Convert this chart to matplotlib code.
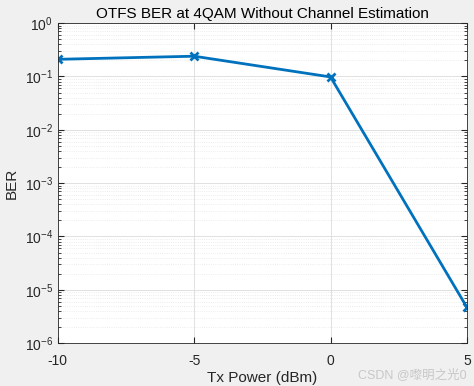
import matplotlib
matplotlib.use("Agg")
import matplotlib.pyplot as plt
from matplotlib.ticker import LogLocator, NullFormatter

# data
tx_power = [-10, -5, 0, 5]
ber = [0.21, 0.24, 0.098, 4.7e-6]
x_ticks = [-10, -5, 0, 5]

plt.rcParams['font.family'] = ['Liberation Sans', 'Noto Sans CJK SC', 'DejaVu Sans']

fig = plt.figure(figsize=(4.74, 3.86), dpi=100, facecolor='#f0f0f0')
ax = fig.add_axes([0.122, 0.111, 0.863, 0.829])
ax.set_facecolor('white')

ax.semilogy(tx_power, ber, '-x', color='#0072BD', linewidth=2,
            markersize=6, markeredgewidth=2)

ax.set_xlim(-10, 5)
ax.set_ylim(1e-6, 1)
ax.set_xticks(x_ticks)
ax.set_xticklabels([str(t) for t in x_ticks])
ax.yaxis.set_major_locator(LogLocator(base=10, numticks=10))
ax.yaxis.set_minor_locator(LogLocator(base=10, subs=range(2, 10), numticks=10))
ax.yaxis.set_minor_formatter(NullFormatter())

ax.grid(True, which='major', color='#dcdcdc', linewidth=0.6)
ax.grid(True, which='minor', axis='y', color='#e6e6e6', linestyle=':', linewidth=0.6)
ax.set_axisbelow(True)

ax.tick_params(which='both', direction='in', top=True, right=True,
               labelsize=10, colors='#262626')
ax.tick_params(which='major', length=4)
ax.tick_params(which='minor', length=2)
ax.tick_params(axis='x', pad=8)
for s in ax.spines.values():
    s.set_color('#262626')
    s.set_linewidth(0.6)

ax.set_xlabel('Tx Power (dBm)', fontsize=11, color='#262626', labelpad=2)
ax.set_ylabel('BER', fontsize=11, color='#262626')
ax.set_title('OTFS BER at 4QAM Without Channel Estimation', fontsize=11,
             color='black', pad=4)

fig.text(0.985, 0.012, 'CSDN @嚟明之光0', ha='right', va='bottom',
         fontsize=9, color='#c8c8c8')

fig.savefig('out.png', dpi=100, facecolor=fig.get_facecolor())
